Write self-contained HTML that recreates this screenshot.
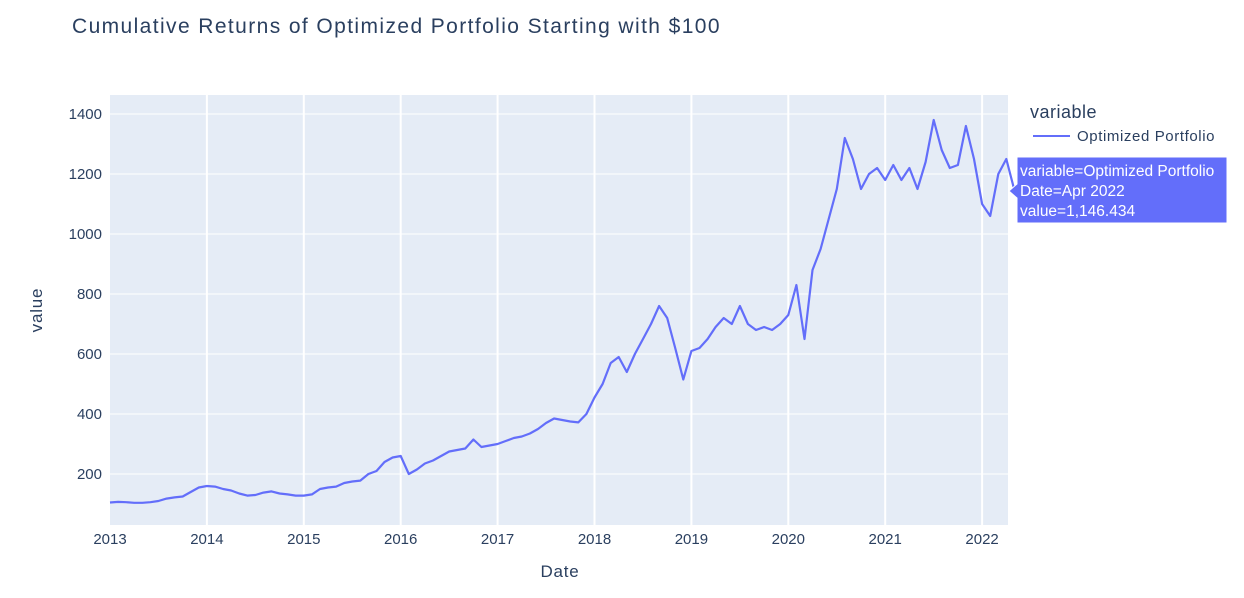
<!DOCTYPE html>
<html><head><meta charset="utf-8"><style>
body{margin:0;background:#fff;font-family:"Liberation Sans",Arial,sans-serif}
svg text{font-family:"Liberation Sans",Arial,sans-serif}
</style></head><body>
<svg id="c" width="1244" height="593">
<rect x="0" y="0" width="1244" height="593" fill="#fff"/>
<text x="72" y="33" font-size="21" letter-spacing="1.4" fill="#2a3f5f">Cumulative Returns of Optimized Portfolio Starting with $100</text>
<rect x="110" y="95" width="898" height="430" fill="#e5ecf6"/>
<g id="grid"></g>
<g id="ticks"></g>
<path id="line" fill="none" stroke="#636efa" stroke-width="2.2" stroke-linejoin="round"/>
<text x="560" y="577" font-size="17" letter-spacing="0.8" fill="#2a3f5f" text-anchor="middle">Date</text>
<text x="42" y="310" font-size="17" letter-spacing="0.8" fill="#2a3f5f" text-anchor="middle" transform="rotate(-90 42 310)">value</text>
<text x="1030" y="118" font-size="18" letter-spacing="0.5" fill="#2a3f5f">variable</text>
<g>
<line x1="1033" y1="136" x2="1070" y2="136" stroke="#636efa" stroke-width="2"/>
<text x="1077" y="141" font-size="15" letter-spacing="0.6" fill="#2a3f5f">Optimized Portfolio</text>
</g>
<g>
<path d="M1009,191 L1017,184 L1017,157 L1227,157 L1227,223 L1017,223 L1017,198 Z" fill="#636efa" stroke="#fff" stroke-width="1"/>
<text x="1020" y="176" font-size="15.5" fill="#fff">variable=Optimized Portfolio</text>
<text x="1020" y="196" font-size="15.5" fill="#fff">Date=Apr 2022</text>
<text x="1020" y="216" font-size="15.5" fill="#fff">value=1,146.434</text>
</g>
</svg>
<script>
const years=[2013,2014,2015,2016,2017,2018,2019,2020,2021,2022];
const yTicks=[200,400,600,800,1000,1200,1400];
const startYear=2013;
const values=[
105,107,106,104,104,106,110,118,122,125,140,155,
160,158,150,145,135,128,130,138,142,135,132,128,
128,132,150,155,158,170,175,178,200,210,240,255,
260,200,215,235,245,260,275,280,285,315,290,295,
300,310,320,325,335,350,370,385,380,375,372,400,
455,500,570,590,540,600,650,700,760,720,620,515,
610,620,650,690,720,700,760,700,680,690,680,700,
730,830,650,880,950,1050,1150,1320,1250,1150,1200,1220,
1180,1230,1180,1220,1150,1240,1380,1280,1220,1230,1360,1250,
1100,1060,1200,1250,1146];
const X=t=>110+(t-2013)*96.9;
const Y=v=>534-v*0.3;
const ns="http://www.w3.org/2000/svg";
const grid=document.getElementById('grid'),ticks=document.getElementById('ticks');
yTicks.forEach(v=>{
 const l=document.createElementNS(ns,'line');
 
 
 l.setAttribute('x1',110);l.setAttribute('x2',1008);l.setAttribute('y1',Y(v));l.setAttribute('y2',Y(v));
 l.setAttribute('stroke','#fff');l.setAttribute('stroke-width',1);grid.appendChild(l);
 const t=document.createElementNS(ns,'text');
 
 
 t.setAttribute('x',102);t.setAttribute('y',Y(v)+5);t.setAttribute('text-anchor','end');
 t.setAttribute('font-size',15);t.setAttribute('fill','#2a3f5f');t.textContent=v;ticks.appendChild(t);
});
years.forEach(yr=>{
 const x=X(yr);
 if(yr>2013){const l=document.createElementNS(ns,'line');
 
 
 l.setAttribute('x1',x);l.setAttribute('x2',x);l.setAttribute('y1',95);l.setAttribute('y2',525);
 l.setAttribute('stroke','#fff');l.setAttribute('stroke-width',2);grid.appendChild(l);}
 const t=document.createElementNS(ns,'text');
 
 
 t.setAttribute('x',x);t.setAttribute('y',544);t.setAttribute('text-anchor','middle');
 t.setAttribute('font-size',15);t.setAttribute('fill','#2a3f5f');t.textContent=yr;ticks.appendChild(t);
});
let d='';
values.forEach((v,i)=>{const t=startYear+i/12;d+=(i?'L':'M')+X(t).toFixed(1)+','+Y(v).toFixed(1);});
document.getElementById('line').setAttribute('d',d);
</script>
</body></html>
